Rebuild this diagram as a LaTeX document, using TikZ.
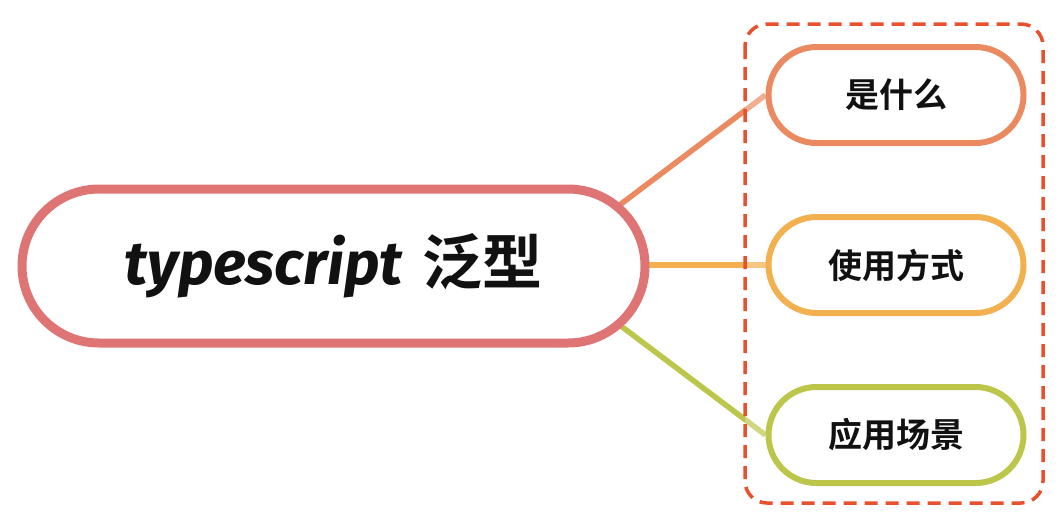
\documentclass[tikz,border=0pt]{standalone}
\usepackage{fontspec}
\newfontfamily\cjkb{Noto Sans CJK SC Bold}
\newfontfamily\tsfont{Fira Sans}
\definecolor{mainc}{HTML}{DF7474}
\definecolor{c1}{HTML}{EB8A60}
\definecolor{c2}{HTML}{F2B04E}
\definecolor{c3}{HTML}{BCC64A}
\definecolor{boxc}{HTML}{E9502E}
\definecolor{txt}{HTML}{111111}
\begin{document}
\begin{tikzpicture}[x=1pt,y=-1pt,
  mainnode/.style={draw=mainc,line width=9pt,fill=white,rounded corners=77pt,
    minimum width=623pt,minimum height=154pt,inner sep=0pt,text=txt},
  subnode/.style={line width=6pt,fill=white,rounded corners=48pt,
    minimum width=255pt,minimum height=96pt,inner sep=0pt,text=txt,
    font=\cjkb\fontsize{34pt}{40pt}\selectfont},
  link/.style={line width=5.5pt},
  groupbox/.style={draw=boxc,line width=3.5pt,dash pattern=on 13pt off 8pt,
    rounded corners=22pt,fill=white,fill opacity=0.3}]
\useasboundingbox (0,0) rectangle (1064,528);
\coordinate (hub) at (540,265);
\coordinate (n1p) at (896,95);
\coordinate (n2p) at (896,265);
\coordinate (n3p) at (896,435);
\path (n1p) node[subnode,draw=c1,opacity=0] (g1) {};
\path (n2p) node[subnode,draw=c2,opacity=0] (g2) {};
\path (n3p) node[subnode,draw=c3,opacity=0] (g3) {};
\draw[link,c1] (hub) -- (g1.west);
\draw[link,c2] (hub) -- (g2.west);
\draw[link,c3] (hub) -- (g3.west);
\draw[groupbox] (745,24) rectangle (1043,503);
\node[mainnode] (main) at (333.5,266) {{\tsfont\bfseries\itshape\fontsize{61pt}{64pt}\selectfont typescript}\hspace{20pt}{\cjkb\fontsize{60pt}{64pt}\selectfont 泛型}};
\node[subnode,draw=c1] (n1) at (n1p) {是什么};
\node[subnode,draw=c2] (n2) at (n2p) {使用方式};
\node[subnode,draw=c3] (n3) at (n3p) {应用场景};
\end{tikzpicture}
\end{document}
